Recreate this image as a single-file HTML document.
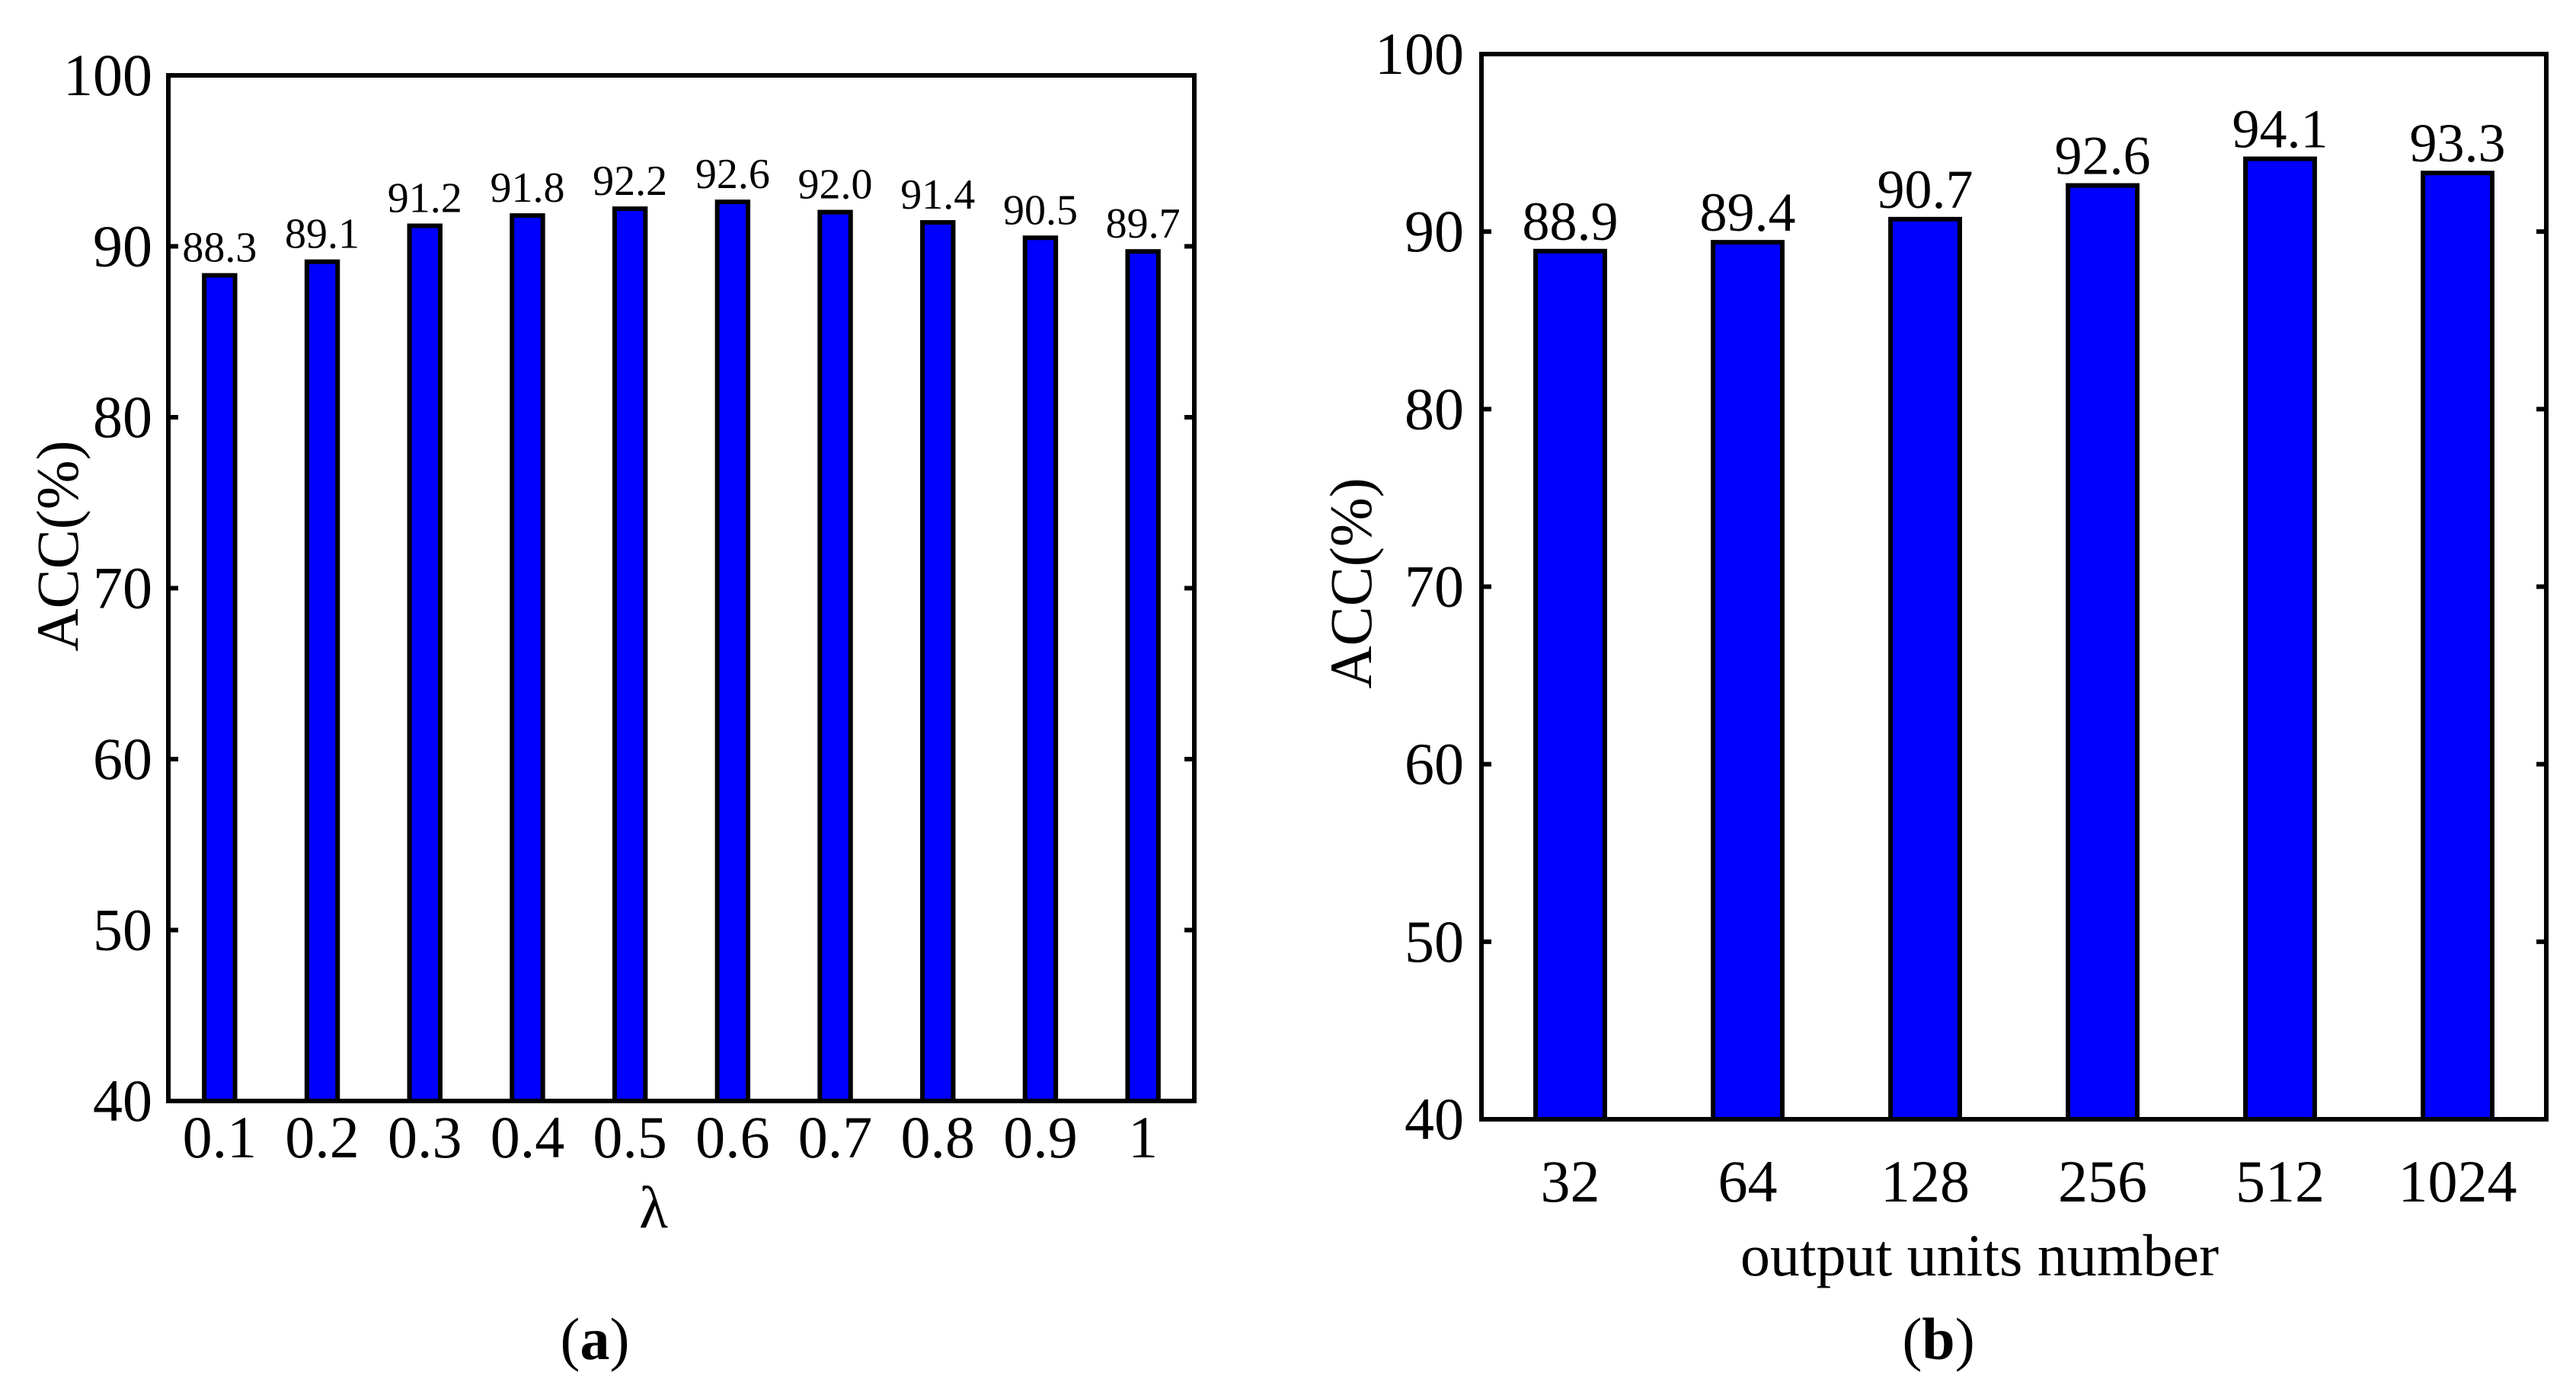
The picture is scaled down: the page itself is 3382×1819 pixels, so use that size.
<!DOCTYPE html>
<html><head><meta charset="utf-8"><style>
html,body{margin:0;padding:0;background:#fff;}
svg{display:block;}
text{font-family:"Liberation Serif",serif;fill:#000;}
</style></head><body>
<svg id="fig" width="3382" height="1819" viewBox="0 0 3382 1819" xmlns="http://www.w3.org/2000/svg">
<rect width="3382" height="1819" fill="#fff"/>
</svg>
<script>
const catsA = ["0.1","0.2","0.3","0.4","0.5","0.6","0.7","0.8","0.9","1"];
const valsA = [88.3,89.1,91.2,91.8,92.2,92.6,92.0,91.4,90.5,89.7];
const labelsA = ["88.3","89.1","91.2","91.8","92.2","92.6","92.0","91.4","90.5","89.7"];
const catsB = ["32","64","128","256","512","1024"];
const valsB = [88.9,89.4,90.7,92.6,94.1,93.3];
const labelsB = ["88.9","89.4","90.7","92.6","94.1","93.3"];
const yTicks = [40,50,60,70,80,90,100];

const NS="http://www.w3.org/2000/svg";
const svg=document.getElementById('fig');
function mk(tag,attrs,parent){const e=document.createElementNS(NS,tag);for(const k in attrs)e.setAttribute(k,attrs[k]);(parent||svg).appendChild(e);return e;}

function chart(cfg){
  const g=mk('g',{});
  
  
  const {L,R,T,B}=cfg;
  const y=v=>B-(v-40)/60*(B-T);
  const bw=(R-L)/cfg.cats.length;
  const x=i=>L+bw*(i+0.5);
  cfg.vals.forEach((v,i)=>{
    const w=bw*cfg.barFrac;
    const r=mk('rect',{x:x(i)-w/2,y:y(v),width:w,height:B-y(v),fill:'#0000ff',stroke:'#000','stroke-width':6},g);
    
    
    const t=mk('text',{x:x(i),y:y(v)-cfg.valGap,'text-anchor':'middle','font-size':cfg.valSize},g);
    t.textContent=cfg.labels[i];
    
    
    const c=mk('text',{x:x(i),y:cfg.xLabY,'text-anchor':'middle','font-size':cfg.tickSize},g);
    c.textContent=cfg.cats[i];
    
    
  });
  yTicks.forEach(v=>{
    if(v>40&&v<100){
      mk('line',{x1:L,x2:L+13,y1:y(v),y2:y(v),stroke:'#000','stroke-width':6},g);
      mk('line',{x1:R,x2:R-13,y1:y(v),y2:y(v),stroke:'#000','stroke-width':6},g);
    }
    const t=mk('text',{x:cfg.yLabX,y:y(v)+26,'text-anchor':'end','font-size':cfg.tickSize},g);
    t.textContent=v;
    
    
  });
  const fr=mk('rect',{x:L,y:T,width:R-L,height:B-T,fill:'none',stroke:'#000','stroke-width':6},g);
  
  
  const yt=mk('text',{x:0,y:0,'text-anchor':'middle','font-size':cfg.tickSize,transform:`translate(${cfg.yTitleX},${cfg.yTitleY}) rotate(-90)`},g);
  yt.textContent='ACC(%)';
  
  
  const xt=mk('text',{x:cfg.xTitleX,y:cfg.xTitleY,'text-anchor':'middle','font-size':cfg.tickSize},g);
  xt.textContent=cfg.xTitle;
  
  
  const cap=mk('text',{x:cfg.capX,y:1785,'text-anchor':'middle','font-size':78},g);
  cap.innerHTML='(<tspan font-weight="bold">'+cfg.cap+'</tspan>)';
  
  
}
chart({name:'chart-a',L:221,R:1568,T:99,B:1446,cats:catsA,vals:valsA,labels:labelsA,barFrac:0.3,valGap:18,valSize:56,tickSize:78,xLabY:1520,yLabX:200,yTitleX:102,yTitleY:717,xTitle:'λ',xTitleX:858,xTitleY:1612,capX:781,cap:'a'});
chart({name:'chart-b',L:1945,R:3343,T:71,B:1470,cats:catsB,vals:valsB,labels:labelsB,barFrac:0.39,valGap:15,valSize:72,tickSize:78,xLabY:1578,yLabX:1922,yTitleX:1800,yTitleY:766,xTitle:'output units number',xTitleX:2599,xTitleY:1675,capX:2545,cap:'b'});
</script>
</body></html>
